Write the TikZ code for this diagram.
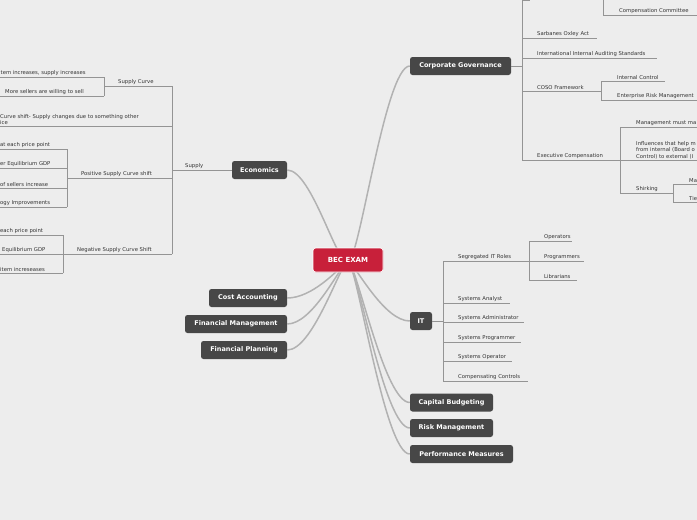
\documentclass[tikz,border=0pt]{standalone}
\usepackage{fontspec}
\setmainfont{DejaVu Sans}
\definecolor{becred}{HTML}{C8203A}
\begin{document}
\begin{tikzpicture}[x=1pt,y=-1pt,
 main/.style={fill=black!72,text=white,rounded corners=2.5pt,font=\fontsize{6.5}{7}\selectfont\bfseries,inner sep=0pt,minimum height=18pt},
 lbl/.style={anchor=south west,font=\fontsize{5.3}{6.3}\selectfont,text=black!80,inner sep=1pt},
 ln/.style={draw=black!42,line width=0.5pt},
 conn/.style={draw=black!30,line width=1.5pt}]
\fill[black!7] (0,0) rectangle (697,520);
\clip (0,0) rectangle (697,520);
\useasboundingbox (0,0) rectangle (697,520);
% central and main nodes
\node[main,fill=becred,minimum width=70pt,minimum height=24pt,font=\fontsize{7}{8}\selectfont\bfseries] (bec) at (348,260) {BEC EXAM};
\node[main,minimum width=101pt] (cg) at (460.5,66) {Corporate Governance};
\node[main,minimum width=22pt] (it) at (421,321) {IT};
\node[main,minimum width=83pt] (cb) at (451.5,402.5) {Capital Budgeting};
\node[main,minimum width=83pt] (rm) at (451.5,428) {Risk Management};
\node[main,minimum width=103pt] (pm) at (461.5,454) {Performance Measures};
\node[main,minimum width=55pt] (eco) at (259.5,170) {Economics};
\node[main,minimum width=78pt] (ca) at (248,298) {Cost Accounting};
\node[main,minimum width=102pt] (fm) at (236,324) {Financial Management};
\node[main,minimum width=86pt] (fp) at (244,350) {Financial Planning};
\foreach \n in {cg,it,cb,rm,pm}{\draw[conn] (bec.center) .. controls (358,270) and ([xshift=-25pt]\n.west) .. (\n.west);}
\foreach \n in {eco,ca,fm,fp}{\draw[conn] (bec.center) .. controls (338,270) and ([xshift=25pt]\n.east) .. (\n.east);}
\node[main,fill=becred,draw=white,line width=0.8pt,minimum width=70pt,minimum height=24pt,font=\fontsize{7}{8}\selectfont\bfseries] at (348,260) {BEC EXAM};
% Corporate governance subtree
\draw[ln] (cg.east) -- (522,66);
\draw[ln] (522,0) -- (522,160);
\draw[ln] (522,0) -- (530,0);
\draw[ln] (603,0) -- (603,15) -- (697,15);
\node[lbl] at (618,15) {Compensation Committee};
\draw[ln] (522,38) -- (597,38); \node[lbl] at (536,38) {Sarbanes Oxley Act};
\draw[ln] (522,58) -- (657,58); \node[lbl] at (536,58) {International Internal Auditing Standards};
\draw[ln] (522,91) -- (601,91); \node[lbl] at (536,91) {COSO Framework};
\draw[ln] (601,81) -- (601,100);
\draw[ln] (601,81) -- (665,81); \node[lbl] at (616,81) {Internal Control};
\draw[ln] (601,100) -- (697,100); \node[lbl] at (616,100) {Enterprise Risk Management};
\draw[ln] (522,160) -- (620,160); \node[lbl] at (536,160) {Executive Compensation};
\draw[ln] (620,127) -- (620,193);
\draw[ln] (620,127) -- (697,127); \node[lbl] at (635,127) {Management must ma};
\draw[ln] (620,160) -- (697,160);
\node[anchor=south west,font=\fontsize{5.3}{6.5}\selectfont,text=black!80,inner sep=1pt,align=left] at (635,160) {Influences that help m\\from internal (Board o\\Control) to external (I};
\draw[ln] (620,193) -- (673,193); \node[lbl] at (635,193) {Shirking};
\draw[ln] (673,184) -- (673,202);
\draw[ln] (673,184) -- (697,184); \node[lbl] at (688,184) {Ma};
\draw[ln] (673,202) -- (697,202); \node[lbl] at (688,202) {Tie};
% Economics subtree
\draw[ln] (eco.west) -- (172,170); \node[lbl] at (184,170) {Supply};
\draw[ln] (172,86) -- (172,254);
\draw[ln] (172,86) -- (104,86); \node[lbl] at (117,86) {Supply Curve};
\draw[ln] (104,77) -- (104,96);
\draw[ln] (104,77) -- (0,77); \node[lbl] at (-2,77) {item increases, supply increases};
\draw[ln] (104,96) -- (0,96); \node[lbl] at (4,96) {More sellers are willing to sell};
\draw[ln] (172,126) -- (0,126);
\node[anchor=south west,font=\fontsize{5.3}{6.3}\selectfont,text=black!80,inner sep=1pt,align=left] at (-1,126) {Curve shift- Supply changes due to something other\\ice};
\draw[ln] (172,178) -- (67,178); \node[lbl] at (80,178) {Positive Supply Curve shift};
\draw[ln] (67,149) -- (67,207);
\draw[ln] (67,149) -- (0,149); \node[lbl] at (-1,149) {at each price point};
\draw[ln] (67,168) -- (0,168); \node[lbl] at (-1,168) {er Equilibrium GDP};
\draw[ln] (67,188) -- (0,188); \node[lbl] at (-1,188) {of sellers increase};
\draw[ln] (67,207) -- (0,207); \node[lbl] at (-1,207) {ogy Improvements};
\draw[ln] (172,254) -- (63,254); \node[lbl] at (76,254) {Negative Supply Curve Shift};
\draw[ln] (63,235) -- (63,273);
\draw[ln] (63,235) -- (0,235); \node[lbl] at (-1,235) {each price point};
\draw[ln] (63,254) -- (0,254); \node[lbl] at (1,254) {Equilibrium GDP};
\draw[ln] (63,273) -- (0,273); \node[lbl] at (-1,273) {item increseases};
% IT subtree
\draw[ln] (it.east) -- (443,321);
\draw[ln] (443,261) -- (443,381);
\draw[ln] (443,261) -- (529,261); \node[lbl] at (457,261) {Segregated IT Roles};
\draw[ln] (529,241) -- (529,280);
\draw[ln] (529,241) -- (572,241); \node[lbl] at (543,241) {Operators};
\draw[ln] (529,261) -- (584,261); \node[lbl] at (543,261) {Programmers};
\draw[ln] (529,280) -- (577,280); \node[lbl] at (543,280) {Librarians};
\draw[ln] (443,303) -- (510,303); \node[lbl] at (457,303) {Systems Analyst};
\draw[ln] (443,322) -- (524,322); \node[lbl] at (457,322) {Systems Administrator};
\draw[ln] (443,342) -- (521,342); \node[lbl] at (457,342) {Systems Programmer};
\draw[ln] (443,361) -- (512,361); \node[lbl] at (457,361) {Systems Operator};
\draw[ln] (443,381) -- (528,381); \node[lbl] at (457,381) {Compensating Controls};
\end{tikzpicture}
\end{document}
